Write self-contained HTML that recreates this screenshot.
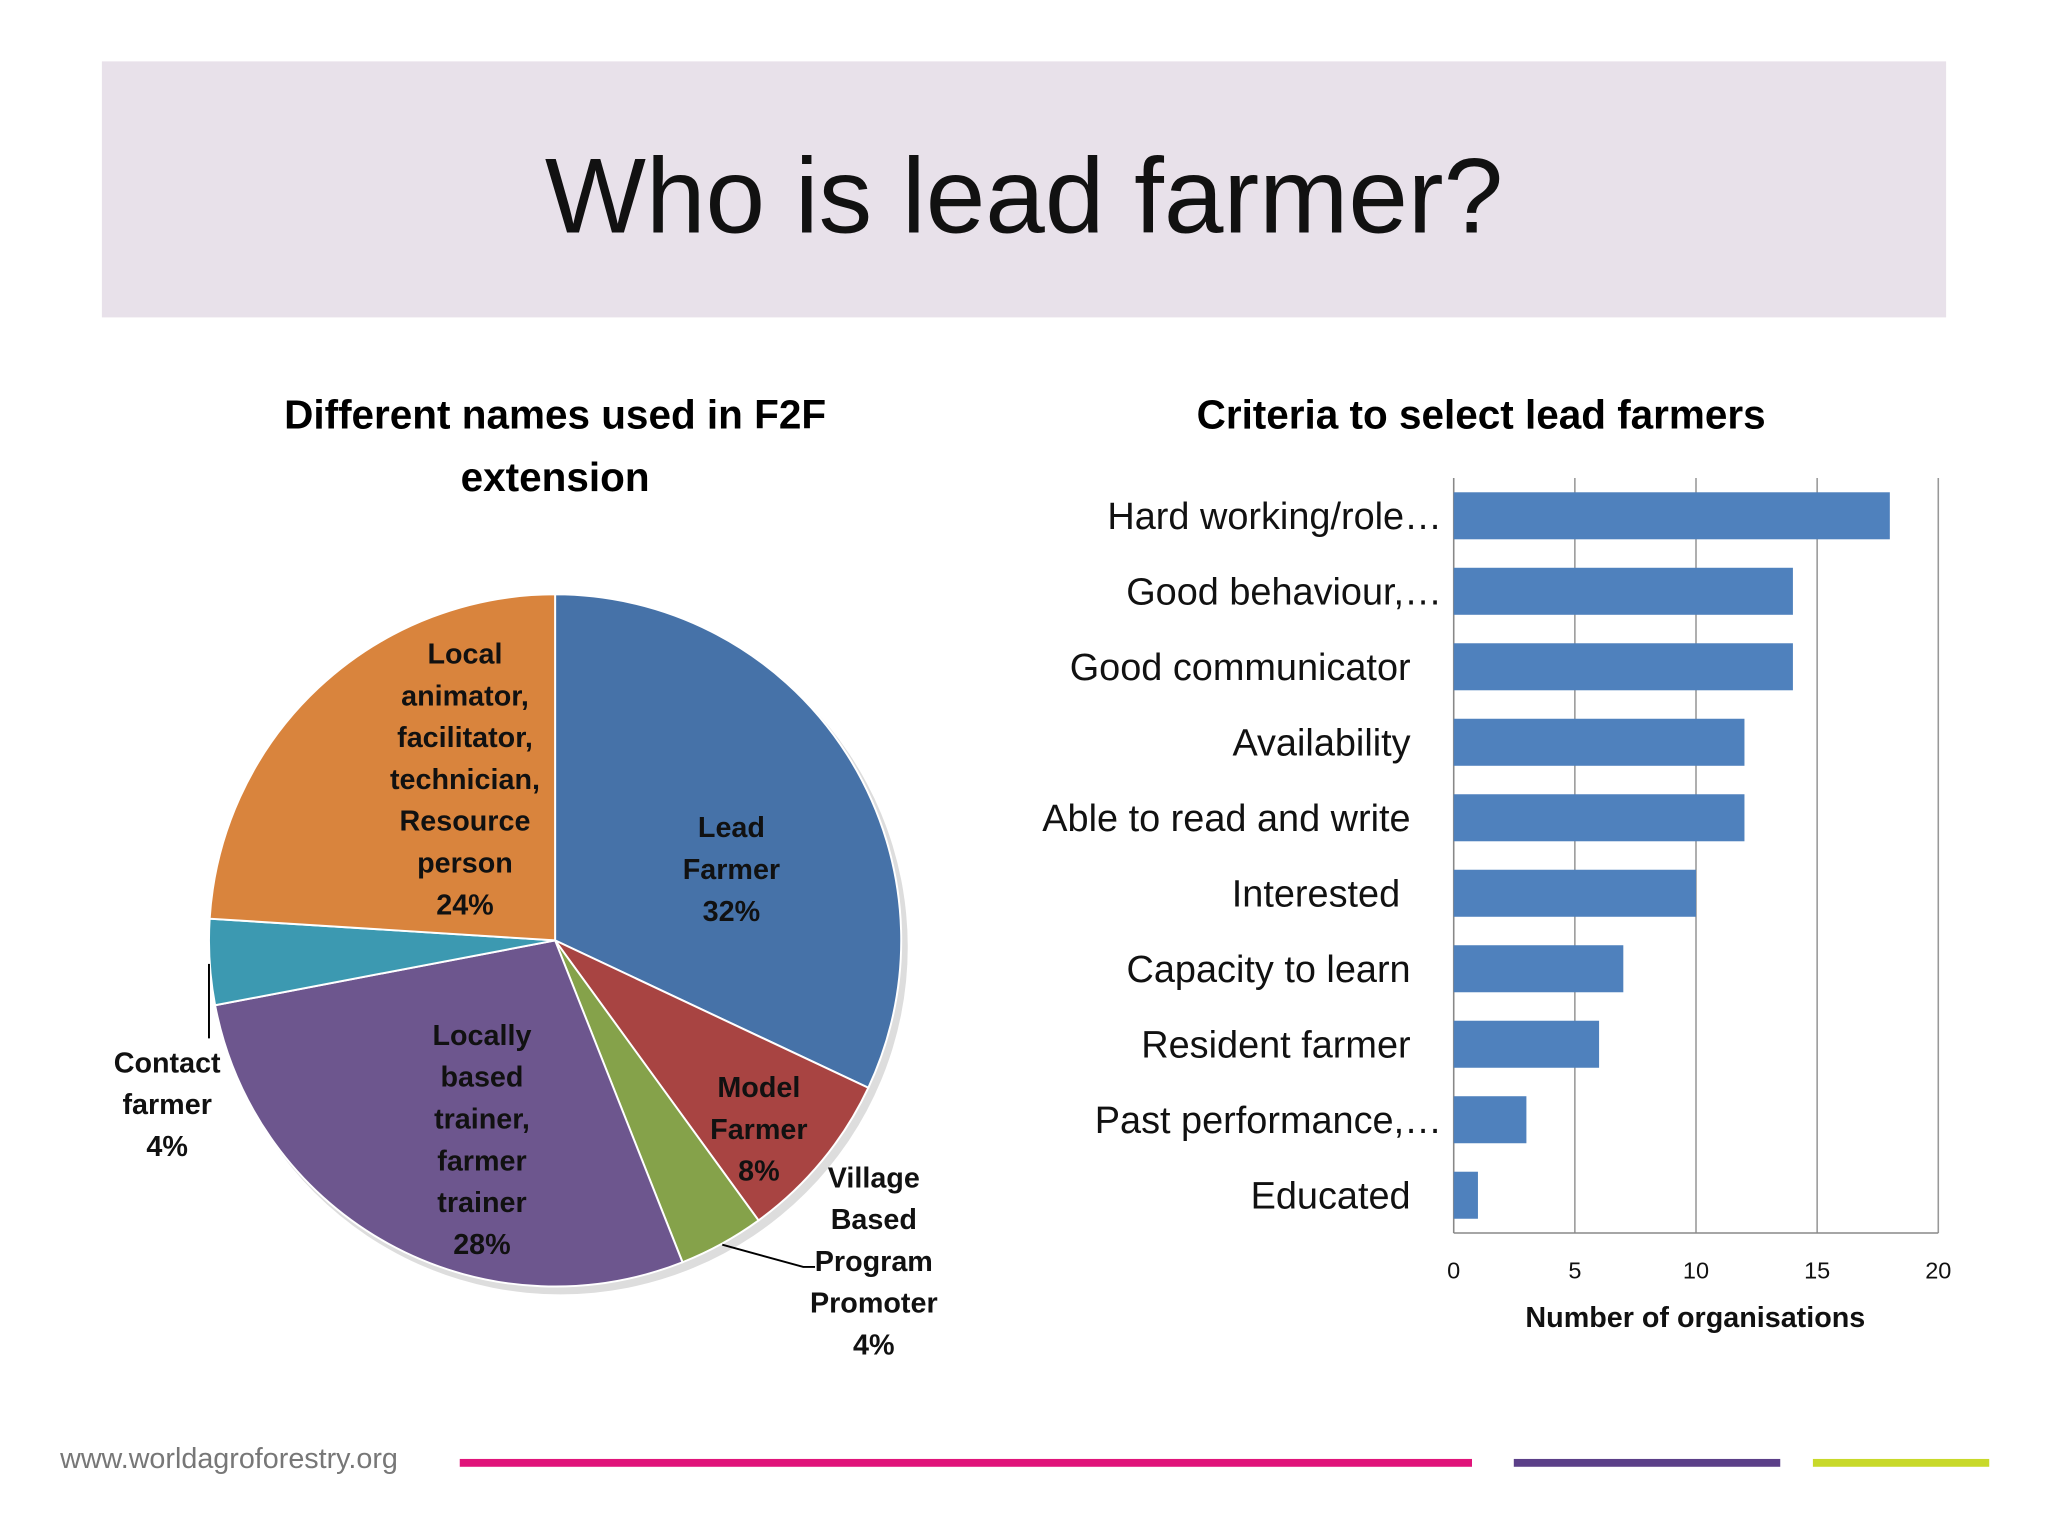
<!DOCTYPE html>
<html><head><meta charset="utf-8"><style>
html,body{margin:0;padding:0;background:#fff}
svg{display:block}
text{font-family:"Liberation Sans",sans-serif}
</style></head><body>
<svg id="s" width="2048" height="1536" viewBox="0 0 1568 1176">
<rect x="0" y="0" width="1568" height="1176" fill="#fff"/>
<rect x="78" y="47" width="1412" height="196" fill="#e8e1ea"/>
<text x="784" y="178" text-anchor="middle" font-size="82" fill="#111">Who is lead farmer?</text>
<text x="425" y="328" text-anchor="middle" font-size="31" font-weight="bold">Different names used in F2F</text>
<text x="425" y="376" text-anchor="middle" font-size="31" font-weight="bold">extension</text>
<text x="1134" y="328" text-anchor="middle" font-size="31" font-weight="bold">Criteria to select lead farmers</text>
<g id="pie"></g>
<g id="bars"></g>
<text x="46" y="1124" font-size="22" fill="#777">www.worldagroforestry.org</text>
<rect x="352" y="1117" width="775" height="6" fill="#e0147a"/>
<rect x="1159" y="1117" width="204" height="6" fill="#5b3f88"/>
<rect x="1388" y="1117" width="135" height="6" fill="#c8d92a"/>
</svg>
<script>
const sliceNames=["Lead Farmer","Model Farmer","Village Based Program Promoter","Locally based trainer, farmer trainer","Contact farmer","Local animator, facilitator, technician, Resource person"];
const sliceValues=[32,8,4,28,4,24];
const sliceColors=["#4672a8","#a84442","#85a24a","#6d568e","#3c99b1","#d9843d"];
const barCats=["Hard working/role…","Good behaviour,…","Good communicator","Availability","Able to read and write","Interested","Capacity to learn","Resident farmer","Past performance,…","Educated"];
const barValues=[18,14,14,12,12,10,7,6,3,1];
const xTicks=[0,5,10,15,20];
const NS="http://www.w3.org/2000/svg";
function mk(tag,attrs,parent){const e=document.createElementNS(NS,tag);for(const k in attrs)e.setAttribute(k,attrs[k]);parent.appendChild(e);return e;}
// pie
const pie=document.getElementById('pie');
const cx=425,cy=720,r=265;
const total=sliceValues.reduce((a,b)=>a+b,0);
mk('circle',{cx:cx+4,cy:cy+5,r:r+1,fill:"#ddd"},pie);
let a0=0;
function pt(a,rr){return [cx+rr*Math.sin(a),cy-rr*Math.cos(a)];}
const labelLines=[["Lead","Farmer","32%"],["Model","Farmer","8%"],["Village","Based","Program","Promoter","4%"],["Locally","based","trainer,","farmer","trainer","28%"],["Contact","farmer","4%"],["Local","animator,","facilitator,","technician,","Resource","person","24%"]];
const labelPos=[[560,633],[581,832],[669,901],[369,792],[128,813],[356,500]];
sliceValues.forEach((v,i)=>{
  const a1=a0+v/total*2*Math.PI;
  const p0=pt(a0,r),p1=pt(a1,r);
  const large=(a1-a0)>Math.PI?1:0;
  const p=mk('path',{d:`M${cx},${cy} L${p0[0]},${p0[1]} A${r},${r} 0 ${large} 1 ${p1[0]},${p1[1]} Z`,fill:sliceColors[i],stroke:"#fff","stroke-width":1.5},pie);
  
  
  const t=mk('text',{x:labelPos[i][0],y:labelPos[i][1],"text-anchor":"middle","font-size":22,"font-weight":"bold",fill:"#111"},pie);
  
  
  labelLines[i].forEach((s,j)=>{const ts=mk('tspan',{x:labelPos[i][0],dy:j?32:8},t);ts.textContent=s;});
  a0=a1;
});
mk('path',{d:"M553,953 L615,970 L624,970",stroke:"#000",fill:"none","stroke-width":1.5},pie);
mk('path',{d:"M160,738 L160,795",stroke:"#000",fill:"none","stroke-width":1.5},pie);
// bars
const bars=document.getElementById('bars');
const x0=1113,x1=1484,plotTop=366,plotBot=944;
const xs=v=>x0+(v-xTicks[0])/(xTicks[xTicks.length-1]-xTicks[0])*(x1-x0);
const band=(plotBot-plotTop)/barCats.length;
xTicks.forEach(t=>{
  const l=mk('line',{x1:xs(t),x2:xs(t),y1:plotTop,y2:plotBot,stroke:t===0?"#888":"#999","stroke-width":1.2},bars);
  
  
  const tx=mk('text',{x:xs(t),y:979,"text-anchor":"middle","font-size":18,fill:"#111"},bars);
  tx.textContent=t;
  
  
});
mk('line',{x1:x0,x2:x1,y1:plotBot,y2:plotBot,stroke:"#888","stroke-width":1.2},bars);
const labelRight=[1104,1104,1080,1080,1080,1072,1080,1080,1104,1080];
barCats.forEach((c,i)=>{
  const yc=plotTop+band*(i+0.5);
  const b=mk('rect',{x:x0,y:yc-18,width:xs(barValues[i])-x0,height:36,fill:"#4f81bd"},bars);
  
  
  const t=mk('text',{x:labelRight[i],y:yc+10,"text-anchor":"end","font-size":29,fill:"#111"},bars);
  t.textContent=c;
  
  
});
const xt=mk('text',{x:1298,y:1016,"text-anchor":"middle","font-size":22,"font-weight":"bold",fill:"#111"},bars);
xt.textContent="Number of organisations";


</script>
</body></html>
